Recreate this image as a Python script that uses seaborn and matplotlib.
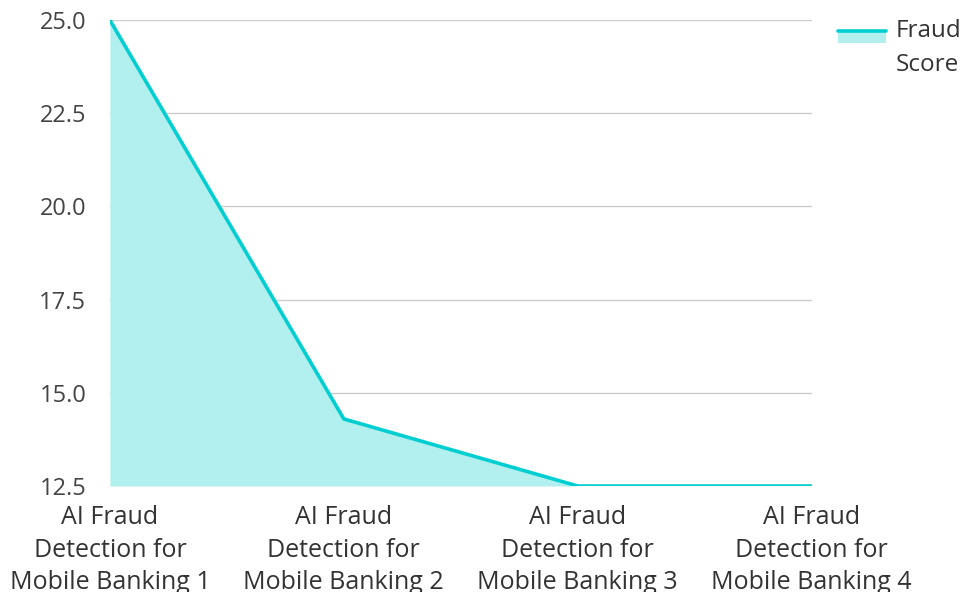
import matplotlib
matplotlib.use("Agg")
import matplotlib.pyplot as plt
import seaborn as sns
import pandas as pd
from matplotlib.legend_handler import HandlerBase
from matplotlib.patches import Rectangle
from matplotlib.lines import Line2D

# Data
categories = [
    "AI Fraud\nDetection for\nMobile Banking 1",
    "AI Fraud\nDetection for\nMobile Banking 2",
    "AI Fraud\nDetection for\nMobile Banking 3",
    "AI Fraud\nDetection for\nMobile Banking 4",
]
fraud_score = [25.0, 14.3, 12.5, 12.5]
y_ticks = [12.5, 15.0, 17.5, 20.0, 22.5, 25.0]

line_color = "#00CED1"
fill_color = "#B2F0EF"

sns.set_theme(style="white")
plt.rcParams["font.family"] = ["Open Sans", "DejaVu Sans"]

df = pd.DataFrame({"x": range(len(categories)), "score": fraud_score})

fig = plt.figure(figsize=(9.64, 5.92), dpi=100)
ax = fig.add_axes([0.114, 0.179, 0.728, 0.787])

ax.fill_between(df["x"], df["score"], y_ticks[0], color=fill_color, lw=0, zorder=2)
sns.lineplot(data=df, x="x", y="score", color=line_color, linewidth=2.6, ax=ax, zorder=3)

ax.set_xlim(0, len(categories) - 1)
ax.set_ylim(y_ticks[0], y_ticks[-1])
ax.set_xticks(range(len(categories)))
ax.set_xticklabels(categories)
ax.set_yticks(y_ticks)
ax.set_yticklabels([f"{v:.1f}" for v in y_ticks])
ax.set_xlabel("")
ax.set_ylabel("")

ax.grid(axis="y", color="#cccccc", linewidth=1, zorder=1)
ax.set_axisbelow(True)
for s in ax.spines.values():
    s.set_visible(False)
ax.tick_params(axis="y", length=0, pad=17, labelsize=17, labelcolor="#444444")
ax.tick_params(axis="x", length=0, pad=14, labelsize=18, labelcolor="#333333")
for lab in ax.get_xticklabels():
    lab.set_linespacing(1.38)


class FillLineHandler(HandlerBase):
    def create_artists(self, legend, orig_handle, xdescent, ydescent,
                       width, height, fontsize, trans):
        top = -ydescent + height * 1.5
        bottom = -ydescent + height * 0.8
        rect = Rectangle((-xdescent, bottom), width, top - bottom,
                         facecolor=fill_color, lw=0, transform=trans)
        line = Line2D([-xdescent, -xdescent + width], [top, top],
                      color=line_color, lw=2.6, transform=trans)
        return [rect, line]


handle = object()
leg = fig.legend([handle], ["Fraud\nScore"], handler_map={object: FillLineHandler()},
                 loc="upper left", bbox_to_anchor=(0.8597, 0.985), frameon=False,
                 fontsize=17.5, labelcolor="#333333", handlelength=1.95,
                 handletextpad=0.4, borderaxespad=0)
leg.get_texts()[0].set_linespacing(1.55)

fig.savefig("out.png", dpi=100)
